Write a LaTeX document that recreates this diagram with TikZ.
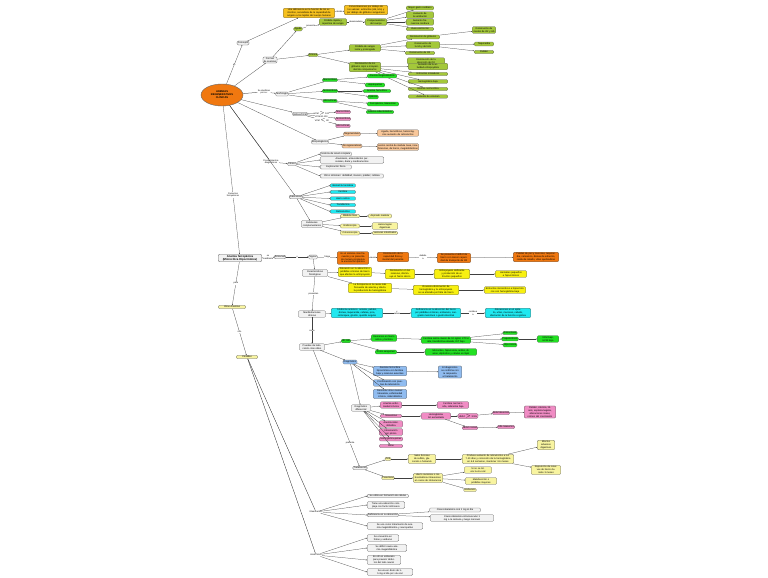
\documentclass[tikz,border=0pt]{standalone}
\usepackage{fontspec}
\setmainfont{Liberation Sans}
\usetikzlibrary{arrows.meta,shapes.geometric}
\definecolor{cor}{HTML}{F07810}
\definecolor{cyl}{HTML}{F7C11E}
\definecolor{cgl}{HTML}{A4C83A}
\definecolor{cgr}{HTML}{22E022}
\definecolor{cpk}{HTML}{F08CC4}
\definecolor{cpe}{HTML}{F8C79A}
\definecolor{cye}{HTML}{F8F010}
\definecolor{ccy}{HTML}{20E8F0}
\definecolor{cbl}{HTML}{90BCF0}
\definecolor{cpy}{HTML}{F8F4A0}
\definecolor{cwh}{HTML}{F2F2F2}
\tikzset{
 bx/.style={draw=black!60,line width=0.25pt,rounded corners=1.2pt,fill=#1,inner sep=0.8pt,align=center,font=\fontsize{2.4}{2.9}\selectfont},
 lb/.style={font=\fontsize{2.2}{2.6}\selectfont,inner sep=0.3pt,fill=white,align=center},
 ar/.style={-{Stealth[length=1.2pt,width=1pt]},line width=0.25pt,draw=black!75}
}
\begin{document}
\begin{tikzpicture}[x=1pt,y=-1pt]
\useasboundingbox[fill=white] (0,0) rectangle (768,578);
% root
\node[draw=black!60,fill=cor,ellipse,minimum width=42,minimum height=22,inner sep=0.5pt,align=center,font=\fontsize{2.6}{3}\bfseries\selectfont] (root) at (222,95) {ANEMIAS\\REGENERATIVAS\\CLÍNICAS};
% top branch
\node[bx=cwh] (conc) at (243,43) {Concepto};
\node[bx=cyl,text width=50] (c1) at (309,13) {Una deficiencia en la función de los eritrocitos, secundaria de la capacidad de oxígeno a los tejidos del cuerpo humano};
\node[bx=cyl,text width=42] (c2) at (366,10) {Concentraciones por debajo de los valores: eritrocitos (Hb, Hto) y por debajo de glóbulos sanguíneos};
\draw[ar] (root) -- node[lb]{es} (conc);
\draw[ar] (conc) -- (c1);
\draw[ar] (c1) -- node[lb]{donde} (c2);
% formas
\node[bx=cwh] (form) at (270,60) {Formas\\de anemias};
\draw[ar] (root) -- (form);
\node[bx=cgl] (agu) at (298,29) {Aguda};
\node[bx=cgl] (cro) at (313,55) {Crónica};
\draw[ar] (form) -- (agu); \draw[ar] (form) -- (cro);
\node[bx=cgl,text width=26] (a1) at (333,22) {Pérdida rápida y repentina de sangre};
\node[bx=cgl,text width=20] (a2) at (376,22) {Compensatorios del cuerpo};
\draw[ar] (agu) -- node[lb]{presenta} (a1); \draw[ar] (a1) -- node[lb]{desencadena} (a2);
\foreach \t [count=\i] in {Mayor gasto cardíaco,Aumento de la ventilación,Aumento frecuencia cardíaca,Vasoconstricción} {
 \node[bx=cgl,text width=26] (a3\i) at (420,{1+7*\i}) {\t}; \draw[ar] (a2) -- (a3\i);}
\node[bx=cgl,text width=30] (k1) at (365,48) {Pérdida de sangre lenta y prolongada};
\node[bx=cgl,text width=30] (k2) at (365,67) {Disminución de los glóbulos rojos e incapacidad de compensarlos};
\draw[ar] (cro) -- (k1); \draw[ar] (cro) -- (k2);
\node[bx=cgl,text width=32] (k11) at (423,37) {Disminución de glóbulos};
\node[bx=cgl,text width=32] (k12) at (423,45) {Disminución de la Hb y del Hto};
\node[bx=cgl,text width=28] (k13) at (420,53) {Disminución de O2};
\node[bx=cgl,text width=36] (k14) at (426,61) {Disminución de la absorción de O2};
\draw[ar] (k1) -- (k11); \draw[ar] (k1) -- (k12); \draw[ar] (k1) -- (k13);
\node[bx=cgl,text width=22] (k15) at (484,30) {Disminución de niveles de O2 y Hb};
\node[bx=cgl,text width=18] (k16) at (484,44) {Taquicardia};
\node[bx=cgl,text width=18] (k17) at (484,52) {Palidez};
\draw[ar] (k11) -- (k15); \draw[ar] (k12) -- (k16); \draw[ar] (k12) -- (k17);
\foreach \t [count=\i] in {Aumento de la actividad eritropoyética,Eritrocitos inmaduros,Hemoglobina baja,Anemia normocítica,Aumento de volumen} {
 \node[bx=cgl,text width=38] (k2\i) at (428,{59+7.5*\i}) {\t}; \draw[ar] (k2) -- (k2\i);}
% morfologia
\node[lb] (cls) at (264,92) {Se clasifican\\por su:};
\draw[line width=0.25pt] (root) -- (cls);
\node[bx=cwh] (mor) at (282,94) {Morfología};
\draw[ar] (cls) -- (mor);
\node[bx=cgr] (mac) at (330,80) {Macrocíticas};
\node[bx=cgr] (nor) at (330,91) {Normocíticas};
\node[bx=cgr] (mic) at (330,101) {Microcíticas};
\foreach \n in {mac,nor,mic} \draw[ar] (mor) -- (\n);
\node[bx=cgr,text width=28] (m1) at (382,76) {Anemia megaloblástica};
\node[bx=cgr,text width=18] (m2) at (375,85) {Hepatopatías};
\node[bx=cgr,text width=26] (m3) at (377,91) {Anemia hemolítica};
\node[bx=cgr] (m4) at (373,97) {Aplásica};
\node[bx=cgr,text width=30] (m5) at (383,104) {Ferropénica, talasemias};
\node[bx=cgr,text width=26] (m6) at (380,112) {Anemia sideroblástica};
\draw[ar] (mac)--(m1); \draw[ar] (mac)--(m2); \draw[ar] (nor)--(m3); \draw[ar] (nor)--(m4); \draw[ar] (mic)--(m5); \draw[ar] (mic)--(m6);
% indices
\node[bx=cwh] (ind) at (300,114) {Índices/VCM};
\draw[ar] (root) -- (ind);
\node[bx=cpk] (i1) at (343,112) {Macrocíticas};
\node[bx=cpk] (i2) at (343,119) {Normocíticas};
\node[bx=cpk] (i3) at (343,126) {Microcíticas};
\draw[ar] (ind) -- node[lb]{VCM $>$ 100} (i1); \draw[ar] (ind) -- node[lb]{VCM 80-100} (i2); \draw[ar] (ind) -- node[lb]{VCM $<$ 80} (i3);
% etiologia
\node[bx=cwh] (eti) at (320,142) {Etiopatogénica};
\draw[ar] (root) -- (eti);
\node[bx=cpe] (e1) at (352,134) {Regenerativas};
\node[bx=cpe] (e2) at (352,146) {No regenerativas};
\node[bx=cpe,text width=40] (e3) at (398,133) {Aguda, hemolíticas, hemorrágicas aumento de reticulocitos};
\node[bx=cpe,text width=40] (e4) at (398,147) {Lesión central de médula ósea, insuficiencias, de hierro, megaloblásticas};
\draw[ar] (eti)--(e1); \draw[ar] (eti)--(e2); \draw[ar] (e1)--(e3); \draw[ar] (e2)--(e4);
% diagnostico
\node[lb] (pd) at (271,162) {Procedimientos\\diagnósticos};
\draw[line width=0.25pt] (root) -- (pd);
\node[bx=cwh] (cli) at (292,164) {Clínico};
\draw[ar] (pd) -- (cli);
\foreach \t/\y/\w in {Historia de salud completa/154/30,{Anamnesis, antecedentes personales, dieta y medicamentos}/160/62,Exploración física/167/30,{Otros síntomas: debilidad, mareos, palidez, cefalea}/176/62} {
 \node[bx=cwh,text width=\w,anchor=west] (d\y) at (320,\y) {\t}; \draw[ar] (cli) -- (d\y.west);}
\node[bx=cwh] (lab) at (296,197) {Laboratorio};
\draw[ar] (root) -- (lab);
\foreach \t [count=\i] in {Biometría hemática,Ferritina,Hierro sérico,Transferrina,Reticulocitos} {
 \node[bx=ccy,text width=24,anchor=west] (l\i) at (330,{179+6.5*\i}) {\t}; \draw[ar] (lab) -- (l\i.west);}
\node[bx=cwh,text width=20] (ex) at (312,224) {Exámenes complementarios};
\draw[ar] (lab) -- (ex);
\foreach \t/\y in {Médula ósea/216,Endoscopía/226,Colonoscopía/233} {
 \node[bx=cpy,text width=18] (x\y) at (350,\y) {\t}; \draw[ar] (ex) -- (x\y);}
\node[bx=cpy,text width=22] (xa) at (380,216) {Aspirado medular};
\node[bx=cpy,text width=24] (xb) at (385,226) {Hemorragias digestivas};
\node[bx=cpy,text width=24] (xc) at (385,233) {Lesiones intestinales};
\draw[ar] (x216)--(xa); \draw[ar] (x226)--(xb); \draw[ar] (x233)--(xc);
% anemia ferropenica
\node[bx=cwh,text width=42,font=\fontsize{2.8}{3.3}\bfseries\selectfont] (af) at (240,258) {Anemia ferropénica\\(Microcítica Hipocrómica)};
\draw[ar] (root) -- node[lb,pos=0.6]{Pacientes\\ferropénicos} (af);
\node[bx=cwh] (sin) at (280,257) {Síntomas};
\node[bx=cwh] (sig) at (313,257) {Signos};
\draw[ar] (af) -- node[lb]{se\\manifiesta} (sin); \draw[ar] (sin) -- node[lb]{y} (sig);
\node[bx=cor,text width=30] (o1) at (353,258) {Es el síntoma más frecuente y se presenta de manera progresiva la anemia ferropénica};
\node[bx=cor,text width=30] (o2) at (393,257) {Disminución de la capacidad física y mental del paciente};
\node[bx=cor,text width=32] (o3) at (454,258) {Se presenta el déficit de hierro con menor capacidad de transporte de O2};
\node[bx=cor,text width=44] (o4) at (536,257) {Palidez de piel y mucosas, taquicardia, cansancio, disnea de esfuerzo, caída de cabello, uñas quebradizas};
\draw[ar] (sig)--node[lb]{fatiga}(o1); \draw[ar] (o1)--node[lb]{causa}(o2); \draw[ar] (o2)--node[lb]{debido\\a}(o3); \draw[ar] (o3)--(o4);
\node[bx=cwh,text width=24] (fis) at (315,273) {Características fisiológicas};
\draw[ar] (sig) -- (fis);
\node[bx=cye,text width=32] (y1) at (355,272) {Alteración en la absorción o pérdidas crónicas de hierro que afectan la eritropoyesis};
\node[bx=cye,text width=28] (y2) at (400,274) {Disminución en las reservas, disminuye el hierro sérico};
\node[bx=cye,text width=34] (y3) at (452,274) {Eritropoyesis deficiente y producción de eritrocitos pequeños};
\node[bx=cye,text width=30] (y4) at (511,274) {Hematíes pequeños e hipocrómicos};
\draw[ar] (fis)--(y1); \draw[ar] (y1)--(y2); \draw[ar] (y2)--(y3); \draw[ar] (y3)--(y4);
\node[bx=cye,text width=42] (y5) at (370,288) {La ferropenia es la causa más frecuente de anemia y afecta la producción de hemoglobina};
\node[bx=cye,text width=44] (y6) at (436,290) {Ocasiona disminución de hemoglobina y la eritropoyesis se ve alterada por falta de hierro};
\node[bx=cye,text width=40] (y7) at (505,290) {Eritrocitos microcíticos e hipocrómicos con hemoglobina baja};
\draw[ar] (fis)--(y5); \draw[ar] (y5)--(y6); \draw[ar] (y6)--(y7);
\node[bx=cwh,text width=26] (tm) at (312,314) {Manifestaciones clínicas};
\draw[ar] (fis) -- node[lb]{presentan} (tm);
\node[bx=ccy,text width=50] (q1) at (357,313) {Síndrome anémico: astenia, palidez, disnea, taquicardia, cefalea, pica, coiloniquia, glositis, queilitis angular};
\node[bx=ccy,text width=48] (q2) at (436,313) {Deficiencia en la absorción del hierro por pérdidas crónicas, embarazo, sangrado menstrual o gastrointestinal};
\node[bx=ccy,text width=44] (q3) at (508,313) {Alteraciones en el epitelio, uñas, mucosas, cabello, afectación de la función cognitiva};
\draw[ar] (tm)--(q1); \draw[ar] (q1)--node[lb]{y\\causa}(q2); \draw[ar] (q2)--node[lb]{conlleva\\a}(q3);
\node[bx=cwh,text width=24] (pr) at (312,347) {Pruebas de laboratorio más útiles};
\draw[ar] (tm) -- node[lb]{como} (pr);
\node[bx=cgr] (g0) at (346,341) {Hb, Hto};
\node[bx=cgr,text width=24] (g1) at (384,338) {Descenso en hierro sérico y ferritina};
\node[bx=cgr,text width=48] (g2) at (446,340) {Ferritina sérica menor de 12 ng/ml, CTFH alta, transferrina elevada, IST bajo};
\node[bx=cgr] (g3) at (510,333) {Anisocitosis};
\node[bx=cgr] (g4) at (510,339) {Poiquilocitosis};
\node[bx=cgr] (g5) at (510,345) {Hipocromía};
\node[bx=cgr,text width=20] (g6) at (548,339) {VCM bajo, HCM baja};
\node[bx=cgr,text width=20] (g7) at (386,352) {Frotis sanguíneo};
\node[bx=cgr,text width=50] (g8) at (451,352) {Microcitos, hipocromía, anillos, dianas, eliptocitos y células en lápiz};
\draw[ar](pr)--(g0); \draw[ar](g0)--(g1); \draw[ar](g1)--(g2); \draw[ar](g2)--(g3); \draw[ar](g2)--(g4); \draw[ar](g2)--(g5); \draw[ar](g4)--(g6); \draw[ar](g0)--(g7); \draw[ar](g7)--(g8);
\node[bx=cbl] (b0) at (350,362) {Diagnóstico};
\node[bx=cbl,text width=32] (b1) at (390,371) {Anemia microcítica hipocrómica con ferritina baja y reservas ausentes};
\node[bx=cbl,text width=32] (b2) at (390,383) {Confirmación con pruebas de laboratorio};
\node[bx=cbl,text width=32] (b3) at (390,394) {Descartar otras causas: talasemia, enfermedad crónica, sideroblástica};
\node[bx=cbl,text width=22] (b4) at (450,372) {El diagnóstico se confirma con la respuesta al tratamiento};
\draw[ar](pr)--(b0); \foreach \b in {b1,b2,b3} \draw[ar](b0)--(\b); \draw[ar](b1)--(b4);
\node[bx=cwh,text width=18] (dd) at (361,408) {Diagnóstico diferencial};
\draw[ar](b0)--(dd);
\node[bx=cpk,text width=20] (p1) at (391,405) {Anemia enfermedad crónica};
\node[bx=cpk,text width=20] (p2) at (391,416) {Talasemias};
\node[bx=cpk,text width=30] (p3) at (453,405) {Ferritina normal o alta, sideremia baja};
\node[bx=cpk,text width=28] (p4) at (436,416) {Hemoglobina A2 aumentada};
\node[bx=cpk] (p5) at (468,416) {HbA2 $>$ 3.5\%};
\node[bx=cpk] (p6) at (501,413) {Beta talasemia};
\node[bx=cpk,text width=30] (p7) at (540,412) {Palidez, ictericia, litiasis, esplenomegalia, alteraciones óseas, retraso del crecimiento};
\node[bx=cpk] (p8) at (470,428) {HbA2 normal};
\node[bx=cpk,text width=16] (p9) at (506,427) {Alfa talasemia};
\foreach \t/\y in {Anemia sideroblástica/424,Intoxicación por plomo/432,Hemoglobinopatías/439,Otras/446} {\node[bx=cpk,text width=22] (pp\y) at (391,\y) {\t}; \draw[ar](dd)--(pp\y);}
\draw[ar](dd)--(p1);\draw[ar](dd)--(p2);\draw[ar](p1)--(p3);\draw[ar](p2)--(p4);\draw[ar](p4)--(p5);\draw[ar](p5)--(p6);\draw[ar](p6)--(p7);\draw[ar](p4)--(p8);\draw[ar](p8)--(p9);
\node[bx=cwh] (tr) at (360,468) {Tratamiento};
\draw[ar](pr)--node[lb,pos=0.8]{presenta}(tr);
\node[bx=cpy] (t1) at (388,459) {Oral};
\node[bx=cpy] (t2) at (388,478) {Parenteral};
\node[bx=cpy,text width=26] (t3) at (422,459) {Sales ferrosas de sulfato, gluconato o fumarato};
\node[bx=cpy,text width=50] (t4) at (488,459) {Produce aumento de reticulocitos a los 7-10 días y corrección de la hemoglobina en 6-8 semanas, mantener 3-6 meses};
\node[bx=cpy,text width=16] (t5) at (546,445) {Efectos adversos digestivos};
\node[bx=cpy,text width=28] (t6) at (546,470) {Reposición de reservas de hierro durante 3 meses};
\node[bx=cpy,text width=28] (t7) at (428,478) {Hierro sacarosa o carboximaltosa intravenoso en casos de intolerancia};
\node[bx=cpy,text width=26] (t8) at (478,470) {Si no se tolera la vía oral};
\node[bx=cpy,text width=30] (t9) at (481,481) {Malabsorción o pérdidas mayores};
\node[bx=cpy] (t10) at (470,490) {Embarazo};
\draw[ar](tr)--(t1);\draw[ar](tr)--(t2);\draw[ar](t1)--(t3);\draw[ar](t3)--(t4);\draw[ar](t4)--(t5);\draw[ar](t4)--(t6);\draw[ar](t2)--(t7);\draw[ar](t7)--(t8);\draw[ar](t7)--(t9);\draw[ar](t7)--(t10);
% otras anemias
\node[bx=cpy,text width=26] (oa) at (232,307) {Otras Anemias};
\draw[ar](af)--node[lb]{para}(oa);
\node[bx=cpy,text width=20] (mi) at (247,357) {Pérdidas};
\draw[ar](oa)--node[lb]{son}(mi);
\node[lb] (vit) at (316,512) {Vitamina B12};
\node[lb] (fol) at (316,555) {Ácido fólico};
\draw[line width=0.25pt](mi)--(vit); \draw[line width=0.25pt](mi)--(fol);
\foreach \t/\y/\w in {Se utiliza en formación de células/496/40,Tiene una absorción compleja con factor intrínseco/505/36,Deficiencia en su absorción/515/30,Se usa como tratamiento de anemia megaloblástica y neuropatías/526/54} {
 \node[bx=cwh,text width=\w,anchor=west] (v\y) at (367,\y) {\t}; \draw[ar](vit)--(v\y.west);}
\node[bx=cwh,text width=50] (v1) at (455,510) {Cianocobalamina oral 1 mg al día};
\node[bx=cwh,text width=62] (v2) at (462,518) {Cianocobalamina intramuscular 1 mg a la semana y luego mensual};
\draw[ar](v515)--(v1); \draw[ar](v515)--(v2);
\foreach \t/\y/\w in {Se encuentra en frutas y verduras/538/30,Su déficit causa anemia megaloblástica/548/38,Es útil en embarazo para prevenir defectos del tubo neural/560/32,Se usa en dosis de 1-5 mg al día por vía oral/572/44} {
 \node[bx=cwh,text width=\w,anchor=west] (f\y) at (367,\y) {\t}; \draw[ar](fol)--(f\y.west);}
\end{tikzpicture}
\end{document}
